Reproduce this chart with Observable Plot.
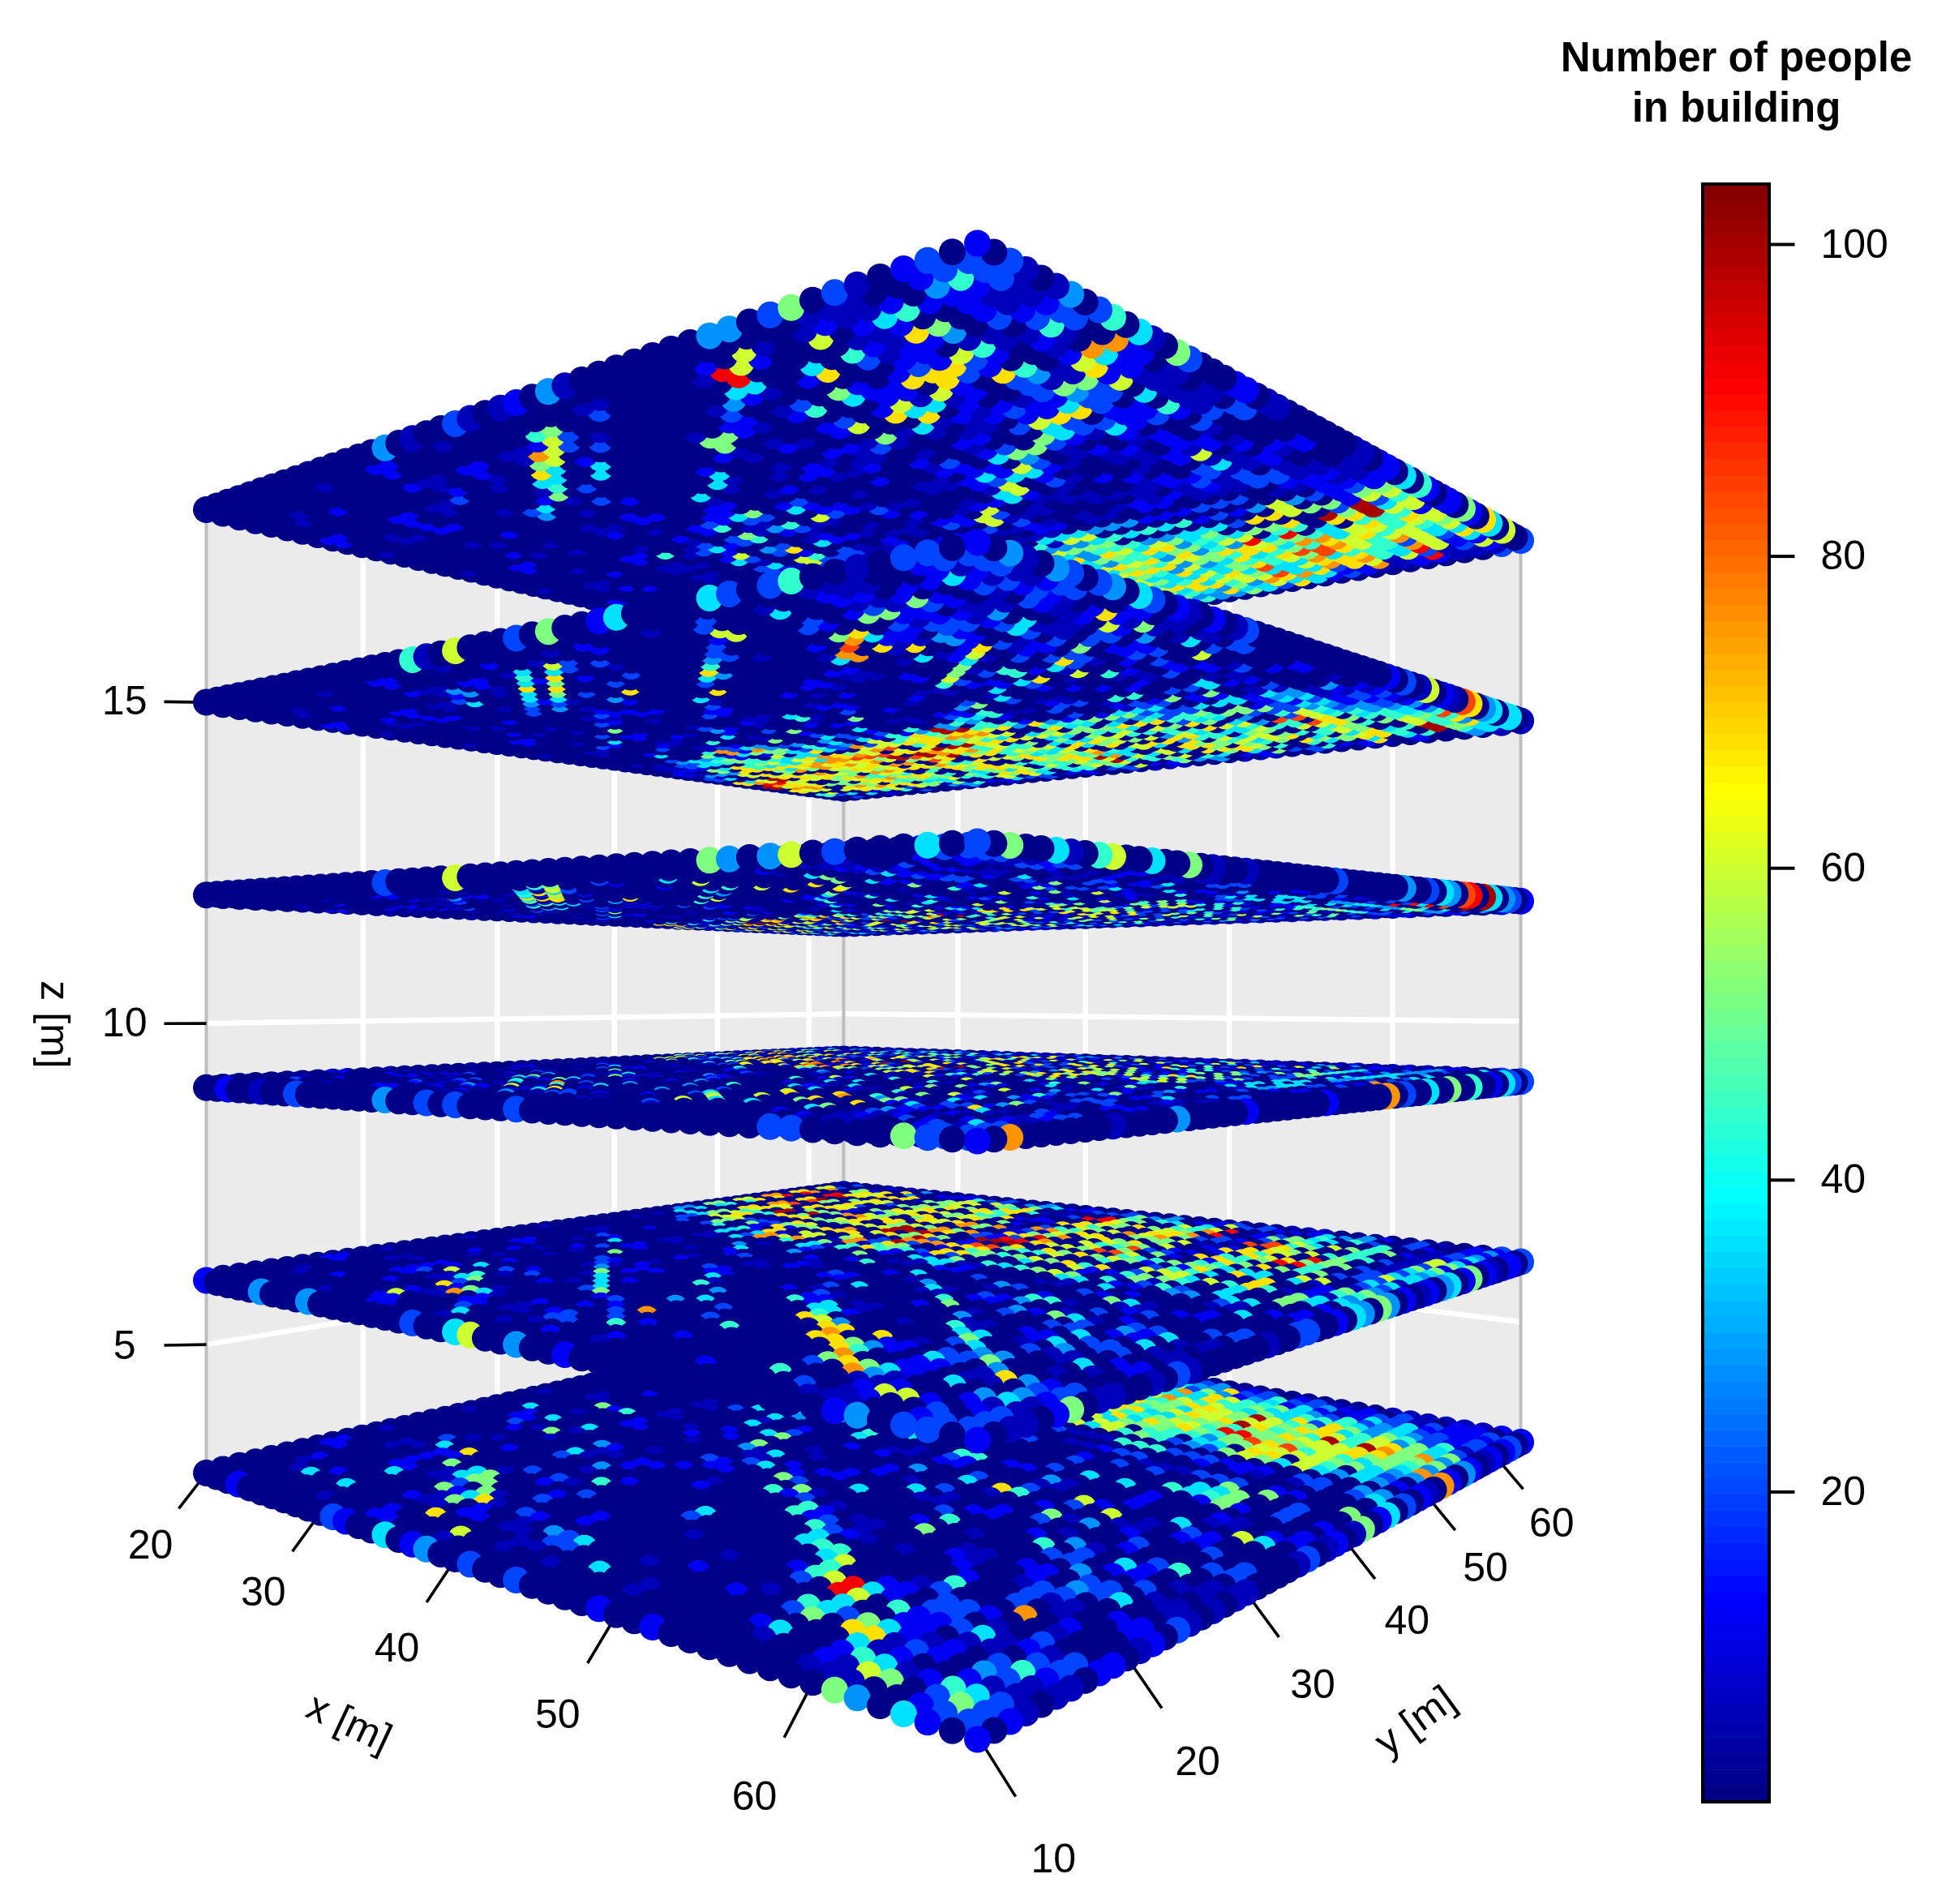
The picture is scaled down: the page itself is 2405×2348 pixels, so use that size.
<!DOCTYPE html>
<html><head><meta charset="utf-8">
<script src="https://cdn.jsdelivr.net/npm/d3@7"></script>
<script src="https://cdn.jsdelivr.net/npm/@observablehq/plot@0.6"></script>
<style>html,body{margin:0;padding:0;background:#fff;overflow:hidden}svg{display:block}</style>
</head><body><div id="chart"></div>
<script>
// Cell levels: one string per y row (near to far), one char per x column.
const levelChars = ".123456789ABCD";
const levelValues = [1,6,12,20,28,36,44,52,60,68,76,84,92,100];
const layerHeights = [18,15,12,9,6,3];
const rows18 = [
"..........41.311241....443731232",".................11...2811212463","................" + ".3...1C2.8.56221","..............." + ".1....55.56297211",
".............." + ".3....121293124324","............." + ".5...17213722386163","............" + ".5....72126529932216","..........." + "......711.232842962A5",
".........." + ".3....2.12128951234821","........" + ".......51.1.217311237227","........" + "......51.1.1.311.2322813","......." + "......22.1..12.122389351.",
"...........235723..2.13237532612","........1.2263352.1..22573252212","........6133746831..1258312123.1",".........3536231.31..2352.1.21.1",
".......11284312.1.2.13831..211..","...2.....5339521.1.12521..1282..",".2.......3586312..3831.1.123521.","...1......213311.2.31...11231...",
"..1.....12.3.1...21.1...1.2131.1","....1.1..2.1..2.1..12.1.2.1.3211","..1...2..1.2.1.3.2.15.4.2.3.1212",".1..1.....3.1.2.1.6485.6.2.4.322",
"...1..2.1..2.1.3.58476.5.3.8.275","1...1....2.1.3.5.75968475.9.7386","..1....1..2.1.4.6.8475956.7.DD52","...1..1...3.2.5.7.5869748C6.9682",
".1....2..1.3.4.6.8.9748695758692","..1..1..2.1.3.5.7586947596A98687","...1....1.2.1.4.6.97585967B86852",".1...1.....3.1.25.8659758596A359",
"..1..1..2.1.3.5.7.85968B5A965825","...1....1.2.1.4.6.75948A59A8C328",".1.....1...2.1.35.8647595321211.","....1.....2..1..3.2.4.3.2.1.2.13"];
const rows15 = [
"........ ...618.. 37.25..5 336.1332","........ .....2.. 12..1.3. 1.21.214","........ ........ .2...3.. 5.2.2521","........ .4...... 3....8.. 32372334",
"........ .4...... 1...2..3 27732123","...2.... 5......3 ...3...7 23121323","........ ......3. ..3.1.28 52314214","........ .....9.. .4...199 14235125",
"........ ....4... 6....4A1 94251293","........ ..2....9 ....2..5 1.3.1812","........ .32...5. ....1... 2.13.271","........ 3....3.. .....2.. .3.7.4.2",
".......7 ....3... ..2....3 6.9.2.51","......3. ........ 1.....3. 653.3..3",".....5.. ..3.2.5. ...2...5 98..38..","....3... 2.4.1.6. 3.....53 ..6.2...",
"......2. .5.3.2.7 ....35.. 2..3.1..",".....3.. 6.1.7.2. ...473.. ..2..3..","....5..3 2.7.3.5. ..36..2. ...5....","......6A 54..532. .45.1.3. 6.3.2...",
".1.34752 73145.26 46.2.3.1 2.7.3.1.","..13562. 7563.869 D964.2.5 3.2514..",".125.768 59.A8697 A8.96.75 3.52412.",".2.79685 9A78B.96 85.75.46 37.25312",
".14.9598 A9B.98D8 9.8.7593 6.735233",".3.8.78A 987DDA96 .75.68.7 5.364321",".5.98A.9 8A.B8978 6.578.69 .4.85438",".98D98.7 98A.9.96 8597.865 86B.6542",
".AC.8978 A.986.87 59.8.49. 5.697651",".D98.7A6 8.798.79 76.59.68 7.86.76B",".8A.7897 96.79.67 9A58.975 8.67.869",".98.A7.6 87.578.6 D8.59.87 9.85.694",
".8.98.97 5.679.68 7.68.796 .5796D75",".65.68.7 6.58.5.6 8.76.57. 6.95.655",".3.2.3.1 4.2.3.2. 3.2.4.2. 3.2.2.45","........ 1.1..... .1...1.. 1.1...11"];
const rows12 = [
"........ ..3..8.. .......7 4483..53","........ ....1..6 7.3..... 2.1...27","........ ......58 ..2.5... 1.2.3.2.","........ .4...96. ....8... 5.3.2.15",
"........ ....79.. ..2..... 7.5.2.31","...2.... ...95... ...6...7 ..3.1.26","........ ..79.... ..5.8.9. 5.2.1..8",".....3.. .75..9.. .4..9.8. ..3.5.1.",
"........ 6.5.4... 6....9.. 7..3.1.5",".......4 5...2..8 ....7... .5...2..","......3. .3....6. ...5.... 6..7...7","........ 3...3... ..5.6... ..7..2.1",
".......7 ....3... .6...5.. 8..3.5..","......3. .....2.. ...5.2.. .7.5...1",".....5.. ........ 5...6.3. ..8...3.","....3... ....1... .7.5...6 ....5...",
"........ ...2.... ..6..7.. 5.2.....","........ ..3...5. ....8.3. ...6.4..",".......3 ...5...7 ..5...6. 8...3...","......6. 7..8.6.. 8.5.2.7. .6..5..3",
".1.6.2.8 .7.9.3.8 .2.9.8.2 .7.3.5..","..9.2.7. A.A3.76. 2.9.86.3 7.2.5.3.","..2.7.D8 .9.83.7D .7.3.87. 8.6.5.2.",".8.3.9.2 9.8.2.A. 6.3.86.2 8.2.5.1.",
".7.2.9.7 .3.D.8.6 .2.9.8.3 .6.2.4.4",".2.9.8.3 9.8.2.7. 8.2.9.3. 6.2.5.3.",".8.3.7.2 .8.9.3.8 .2.8.3.5 .3.6.5.3",".3.8.6.2 7.3.8.7. 2.8.3.7. 2.6.3.C5",
".8.2.8.3 .7.3.8.2 .7.2.8.3 .2.7.4.4",".2.8.3.7 .2.8.7.3 .7.3.6.2 .7.2.5.B",".8.3.7.2 .8.3.7.6 .3.7.2.8 .3.6.7.C",".3.7.2.8 .7.2.8.3 .7.3.6.2 .7.3.5.D",
".6.3.7.2 .8.3.7.2 .6.2.7.3 .6.3.4.5",".3.5.2.4 .2.4.3.5 .2.3.4.3 .3.2.3.4",".1.3.2.1 .3.2.1.3 .2.1.2.1 .1.2.2.3","1...1.1. .1.2..1. 1..1.1.1 .1.1..12"];
const rows9 = [
".2.1.3.. ..4.33.. 3....... .33..732","...3.... 2...2... .1..1... .2.1.31A","........ ..2..4.. .1.3.... 2.1.3.5.",".......3 ..4..5.. 2..8.... 5.3.1.2.",
"........ ...8.9.. .2...5.. 7.4.2.1.","...2.... 3.5.6... ..3...7. 9.3.5.2.","........ .6.A.5.. 4...8.9. .5.9.3.1",".....3.. 5.7..4.. .3..9.A. 7..4.1..",
"........ 7.5....4 ...8.9.. .5.7..2.",".......4 .3...2.. 6..5...7 .5...3.4","......3. ..7...4. ..5...6. 8.4.3...","........ .5...3.. ...5.8.. 3.6...2.",
".......7 ....4... .5...7.. 8..3.5..","......3. ..2....6 ..5...7. .4.7...2",".....5.. ....3... 8...6.4. ..5.3...","....3... ...2.... ..6...7. 5...4...",
"........ ..4...3. 5...8..6 ..7.....","........ .6...4.. ..8...5. 7..6.3..",".......3 ...6...8 ..6...7. .5...4.2","......6. 8.29.7.. 9.63.7.2 .7..5...",
".1.7.2.9 .8.A.3.9 .2.7.9.3 .8.2.5..","..8.3.7. 9.B2.87. 3.8.97.2 8.3.5.3.","..3.6.98 .A.92.8D .8.4.78. 6.7.5.2.",".7.2.9.3 A.9.3.9. 7.2.97.3 9.3.5.1A",
".8.3.A.8 .2.D.9.7 .3.8.7.2 .7.3.4.3",".3.8.9.2 A.7.3.8. 9.3.8.2. 7.3.5.3.",".7.2.8.3 .9.8.2.9 .3.7.2.6 .4.7.5.5",".2.9.7.3 8.2.7.8. 3.9.2.6. 3.7.2.5.",
".9.3.9.2 .8.2.7.3 .8.3.9.2 .3.6.5.7",".3.7.2.6 .3.7.9.2 .6.2.7.3 .6.3.4..",".7.2.8.3 .7.2.6.8 .2.8.3.9 .2.5.4.6",".2.8.3.7 .6.3.9.2 .8.2.5.3 .8.2.3..",
".5.2.6.3 .7.2.8.3 .7.3.8.2 .5.2.4.2",".2.4.3.5 .3.5.2.4 .3.2.5.2 .4.2.2.5",".1.2.1.3 .2.1.3.2 .1.2.3.1 .2.1.2.3","1...1... .1.1..1. ...1.1.. .1.1..13"];
const rows6 = [
"2..4..4. ...3.58. 4.2..... ...24332","........ 2...5.1. 2.1...2. .3.2.3.1","........ 8..3.... ..2..... 6..88.21","......2. .A....2. ...2.... 3.4..452",
"........ 975..... .2...... 775.5.47",".....3.5 7....... A..6...A 6.2.1421","......86 .....23. ..3...97 4.5.9..1","......53 ....7..4 .3...A99 ...4..1.",
"........ 2..5.... 5...94.. .37..5.1","...2.... ..5....4 ...85... .5..4..3","........ .4....6. ..65.... 5..5.3.1","........ 3.2..5.. ..3....4 ...5.5..",
".....2.7 ....3... .3....7. 3...45..","......3. ..2..... ..5..6.. 475.3...",".....5.. ......2. 3...5.34 ..3....1","....3... ...3..2. ...4...6 6..3....",
"........ ..5..2.. ..5..43. .75....3","........ .4..4..6 ....3... 3....5.3","........ 5..53.7. .5...... 5...3...",".......5 3A6.16.2 5.16.75. 234.5..2",
".1..3.6. 28.7196. 37.5.8.6 16.5.7.5","...3.7.2 9.8.A37. 96.7.92. 78.6.154","..5.8.39 7.98.DA2 97.8.6.3 85.9.267",".4.79.1. 8.A.973. B.69.7.2 69.5.174",
".5.86.9. 7.8DD9.2 D9.7.86. 7.5.8.32",".7.9.D7. 89.7.A.3 C.8.B7.2 69.7.351",".6.98.7. A.98.7.2 9A.86.3. 97.6.382",".8.A.9.2 87.9.A.1 78.97.2. 69C7.354",
".9.B.98. 7.98.7.3 A.97.8.2 98.7.155",".A.97.3. 98.79.2. 68.A7.1. 98.6.372",".C.D.98. 79.86.2. 97.89.3. B7.6.187",".9.C9.1. 87.96.3. 89.7A.2. 68.7.252",
".A.98.9. 78.69.1. C7.86C.3 75.6.131",".8.79.2. 68.75.3. 76.58.2. 56.3.242",".3.2.4.1 2.3.4.2. 3.4.2.3. 2.4.3.22","1...1... 1...3... 1...3..1 ..2.1.23"];
const rows3 = [
"..2....3 2.524.3. 3..2.2.. ...74522","........ ....8.1. 1..1.... 1.287372","...5.5.. ..9...1. .5.1...2 5.251651","..2..... .7....45 ..1..2.3 76932431",
".....5.. 75..3... ...2..16 57512361",".......5 7..3..2. ...1..35 86235212","......75 5..2.... .1...26C 5.3.13.2","....59.. ..3..... 3....68. .3..A2.1",
"...3.... ...6.... 5...56.. .6.3...2","........ 3.4..... ...531.. ...33..3","........ 5.....2. ..63.... 2...45.1","...3.7.. 4...2... 66....7. ...4.3.1",
"....5.5. ....3..7 7.....6. .6..5..1","..5..... .....35. ..5..3.. ..4..6.1","........ .2..45.. ...5.... 3..3....","....76.. ....7... .2..3... 74...3..",
"........ ...57... ..4.596. 38..3..1","........ ..5.3... 2...3.3. 8..5.853","........ 3.5...5. ..3...4. .2..2..1","........ .5.4..6. ..6.2..5 ...2...2",
"......2. ..7....5 .....3.. ..67.3.1","........ 3...5... .3.....3 ..57...7","..1..... 1.5...2. 1.3..2.. 1.3.2..2",".1...3.. ..1.3... .2..1.3. .2.1.3.5",
"....1.1. ...3.2.. 5.3.1.6. 3.2.3.43","...1.... 1.1...3. .5.8.6.3 .7.5.4.2","..1...1. ..1.3..5 6.758764 58986531",".1...1.. .3..5.6. 76857967 7B86754A",
"...1.2.. 1.4.6.7. 87596786 C9789762",".1.....1 .5.7.8.7 68975879 768D9A74","...1.1.. 3.6.5.7. 7586798D 87968752",".1....1. .4.8.9.6 87689675 69574631",
"..1..... 1.5.6.8. 967A5867 53645322",".....1.. .3.5.7.5 68579465 42353232","..1..... ..2.3.2. 34534232 31231223","........ 1...1... .1..1... 1..1.1.2"];
const layerRows = [rows18,rows15,rows12,rows9,rows6,rows3];
// faint blue building footprints seen on the open part of each floor
const lowRows = [
"........ ........ ........ 12.31231","......1. .2..1... ........ ..11.232","...1..2. 1.3.2..1 ........ ..212132","..1.2... 21.2.1.3 ........ ..12.213",
"....1.3. .2.1.2.. ........ ..23.121",".2...2.1 3.1...2. ........ ..2.1.32","...1.2.. 1.2.3... ........ 2.32.1.2",".1..2... .3.1..2. ........ 13.2.3.1",
"....1.2. ..1.2... ........ .2.31.2.","..2..1.. 2...1.2. .1..2.1. 2.1..3.2","....2.1. .1.2..1. ..2.1... 1.2.3.1.",".1...1.. .2..1... 2.1..2.. .2.1.2.3",
"...2..1. ..1..2.. .1...2.1 ..3.2.1.","..1.1... 1...2.1. ...2.1.. 2.1.3..2","....1..2 ..1..1.. 2...1.2. .1.2..3.",".1...2.. .1.2...1 ..1..2.. 1.2..1.2",
"...1...1 ..2...1. .2...1.2 ..1.2...","..1.1... 1...1..2 ...1.2.. 2..1.2.1","....2..1 ..1.2... 1.2...1. .2..1.2."];
// diagonal street runs read tile by tile on the 1 m grid: [x index, y index, levels], each step x-1, y+1
const streets18 = [[23,3,"78885567"],[22,3,"62A7951.54"],[46,11,"A5974595774858528"],[40,9,"998595"],[34,3,"8C5432772.55"]];
const streets15 = [[22,4,"859797534"],[20,4,"565955433"],[32,4,"823346953"],[36,8,"9ABA5"],[38,14,"9857786"]];
const streets12 = [[22,4,"85979"],[20,4,"56595"]];
const streets9 = [[30,6,"5875"],[36,10,"746"]];
const streets6 = [[38,5,"A9A99A9865"],[43,8,"94745756"],[25,5,"6332"],[19,10,"7555743"]];
const streets3 = [[41,2,"865935C865653"],[29,14,"62637322"],[15,6,"9777"]];
const layerStreets = [streets18,streets15,streets12,streets9,streets6,streets3];
const xTicks = [20,30,40,50,60];
const yTicks = [10,20,30,40,50,60];
const zTicks = [5,10,15];
const barTicks = [20,40,60,80,100];
const jetStops = ["#00007F","#0000FF","#007FFF","#00FFFF","#7FFF7F","#FFFF00","#FF7F00","#FF0000","#7F0000"];
const valueMax = 104;

const W = 2405, H = 2348;
const xMin = 20, xMax = 67, yMin = 9.9, yMax = 64.1, zLow = 3, zHigh = 18;
const uOf = x => (x - xMin) / (xMax - xMin), vOf = y => (y - yMin) / (yMax - yMin);
// pinhole camera of the 3D box
const depth = (u,v) => 0.012626 - 0.004496*u + 0.00536*v;
const sx = (u,v) => (3.207 + 6.59*u + 15.498*v) / depth(u,v);
const sy = (u,v,z) => 1222 - (z - 10.5) / depth(u,v);
const P = (u,v,z) => ({px: sx(u,v), py: sy(u,v,z)});

// buildings sit on a 1 m grid; the read rows are coarser, so each read cell is placed on its grid cell,
// inside the crowded far blocks the gaps take a neighbouring read cell, elsewhere the faint footprints
const nX = 48, nY = 55, readX = 32, readY = 36, denseFrom = 19;
const clampTo = (a,n) => Math.max(0, Math.min(n-1, a));
const low = lowRows.map(r => r.replace(/ /g,""));
const cells = [];
layerHeights.forEach((z,k) => {
  const rows = layerRows[k].map(r => r.replace(/ /g,"").padEnd(readX,"."));
  const over = new Map();
  layerStreets[k].forEach(([i0,j0,s]) => [...s].forEach((ch,n) => { if (ch !== ".") over.set((i0-n)+","+(j0+n), ch); }));
  for (let fj = 0; fj < nY; fj++) for (let fi = 0; fi < nX; fi++) {
    const ri = fi*(readX-1)/(nX-1), rj = fj*(readY-1)/(nY-1);
    const ci = Math.round(ri), cj = Math.round(rj);
    const hitI = Math.round(ci*(nX-1)/(readX-1)) === fi, hitJ = Math.round(cj*(nY-1)/(readY-1)) === fj;
    let ch = ".";
    if (cj >= denseFrom && fi < nX-1) {
      const di = (((fi*2+fj)%3)-1)*0.45, dj = (((fi+fj*2)%3)-1)*0.45;
      ch = rows[clampTo(Math.round(rj+dj),readY)][clampTo(Math.round(ri+di),readX)];
    } else if (hitI && hitJ) ch = rows[cj][ci];
    else if (cj < denseFrom && fj > 0 && fi < nX-1) ch = low[cj][ci];
    if (over.has(fi+","+fj)) ch = over.get(fi+","+fj);
    const u = fi/(nX-1), v = fj/(nY-1), c = levelChars.indexOf(ch);
    cells.push({...P(u,v,z), w: depth(u,v), z, value: levelValues[c < 0 ? 0 : c]});
  }
});
cells.sort((a,b) => b.w - a.w);

const wallPts = (a,b) => [P(a[0],a[1],zLow),P(b[0],b[1],zLow),P(b[0],b[1],zHigh),P(a[0],a[1],zHigh)];
const wallLeft = wallPts([0,0],[0,1]), wallRight = wallPts([0,1],[1,1]);
const seg = (a,b,extra={}) => {const p=P(...a),q=P(...b);return {x1:p.px,y1:p.py,x2:q.px,y2:q.py,...extra}};
const whites = [
  ...yTicks.slice(1).map(t => seg([0,vOf(t),zLow],[0,vOf(t),zHigh])),
  ...xTicks.slice(1).map(t => seg([uOf(t),1,zLow],[uOf(t),1,zHigh])),
  ...zTicks.flatMap(t => [seg([0,0,t],[0,1,t]),seg([0,1,t],[1,1,t])])
];
const greys = [[0,0],[0,1],[1,1]].map(c => seg([c[0],c[1],zLow],[c[0],c[1],zHigh]));
const tickDz = 0.45;
const ticks = [
  ...xTicks.map(t => seg([uOf(t),0,zLow],[uOf(t),-0.03,zLow-tickDz])),
  ...yTicks.map(t => seg([1,vOf(t),zLow],[1.03,vOf(t),zLow-tickDz])),
  ...zTicks.map(t => seg([0,0,t],[-0.03,-0.03,t]))
];
const groundLabels = [
  ...xTicks.map(t => ({...P(uOf(t),-0.06,zLow-0.95), t:String(t)})),
  ...yTicks.map(t => ({...P(1.06,vOf(t),zLow-0.95), t:String(t)}))
];
const zLabels = zTicks.map(t => ({...P(-0.058,-0.058,t), t:String(t)}));

// colour bar
const barX1 = 2100, barX2 = 2182, barBottom = 2224, barPerUnit = 19.23, barLow = 0.1, barHigh = 103.85;
const barY = v => barBottom - v*barPerUnit;
const bands = d3.range(100).map(k => ({a:barLow+k*(barHigh-barLow)/100, b:barLow+(k+1)*(barHigh-barLow)/100, value:(k+.5)*valueMax/100}));

const font = {fontFamily:"Liberation Sans, Arial, sans-serif", fontSize:50, fill:"#000"};
const chart = Plot.plot({
  width:W, height:H, margin:0,
  style:{background:"#fff", fontFamily:"Liberation Sans, Arial, sans-serif"},
  x:{domain:[0,W], range:[0,W], axis:null},
  y:{domain:[0,H], range:[0,H], axis:null},
  color:{type:"linear", domain:jetStops.map((c,k)=>k*valueMax/8), range:jetStops, interpolate:"rgb"},
  marks:[
    Plot.line(wallLeft,{x:"px",y:"py",fill:"#EBEBEB",stroke:null}),
    Plot.line(wallRight,{x:"px",y:"py",fill:"#EBEBEB",stroke:null}),
    Plot.link(whites,{x1:"x1",y1:"y1",x2:"x2",y2:"y2",stroke:"#fff",strokeWidth:6.5}),
    Plot.link(greys,{x1:"x1",y1:"y1",x2:"x2",y2:"y2",stroke:"#BEBEBE",strokeWidth:4}),
    Plot.link(ticks,{x1:"x1",y1:"y1",x2:"x2",y2:"y2",stroke:"#000",strokeWidth:3.6}),
    Plot.dot(cells,{x:"px",y:"py",r:16.5,fill:"value",stroke:null}),
    Plot.text(groundLabels,{x:"px",y:"py",text:"t",dy:-3,...font}),
    Plot.text(zLabels,{x:"px",y:"py",text:"t",...font}),
    Plot.text([{px:430,py:2124,t:"x [m]"}],{x:"px",y:"py",text:"t",rotate:25,...font}),
    Plot.text([{px:1745,py:2122,t:"y [m]"}],{x:"px",y:"py",text:"t",rotate:-36,...font}),
    Plot.text([{px:66,py:1263,t:"z [m]"}],{x:"px",y:"py",text:"t",rotate:90,...font}),
    Plot.rect(bands,{x1:()=>barX1,x2:()=>barX2,y1:d=>barY(d.a)+.6,y2:d=>barY(d.b),fill:"value",inset:0}),
    Plot.rect([0],{x1:()=>barX1,x2:()=>barX2,y1:()=>barY(barLow),y2:()=>barY(barHigh),fill:"none",stroke:"#000",strokeWidth:4}),
    Plot.link(barTicks,{x1:()=>barX2,x2:()=>2213,y1:d=>barY(d),y2:d=>barY(d),stroke:"#000",strokeWidth:4}),
    Plot.text(barTicks,{x:()=>2245,y:d=>barY(d),text:d=>String(d),textAnchor:"start",...font}),
    Plot.text(["Number of people","in building"],{x:()=>2141,y:(d,i)=>71+i*62,text:d=>d,fontWeight:"bold",...font,fontSize:51})
  ]
});
document.getElementById("chart").appendChild(chart);
</script></body></html>
